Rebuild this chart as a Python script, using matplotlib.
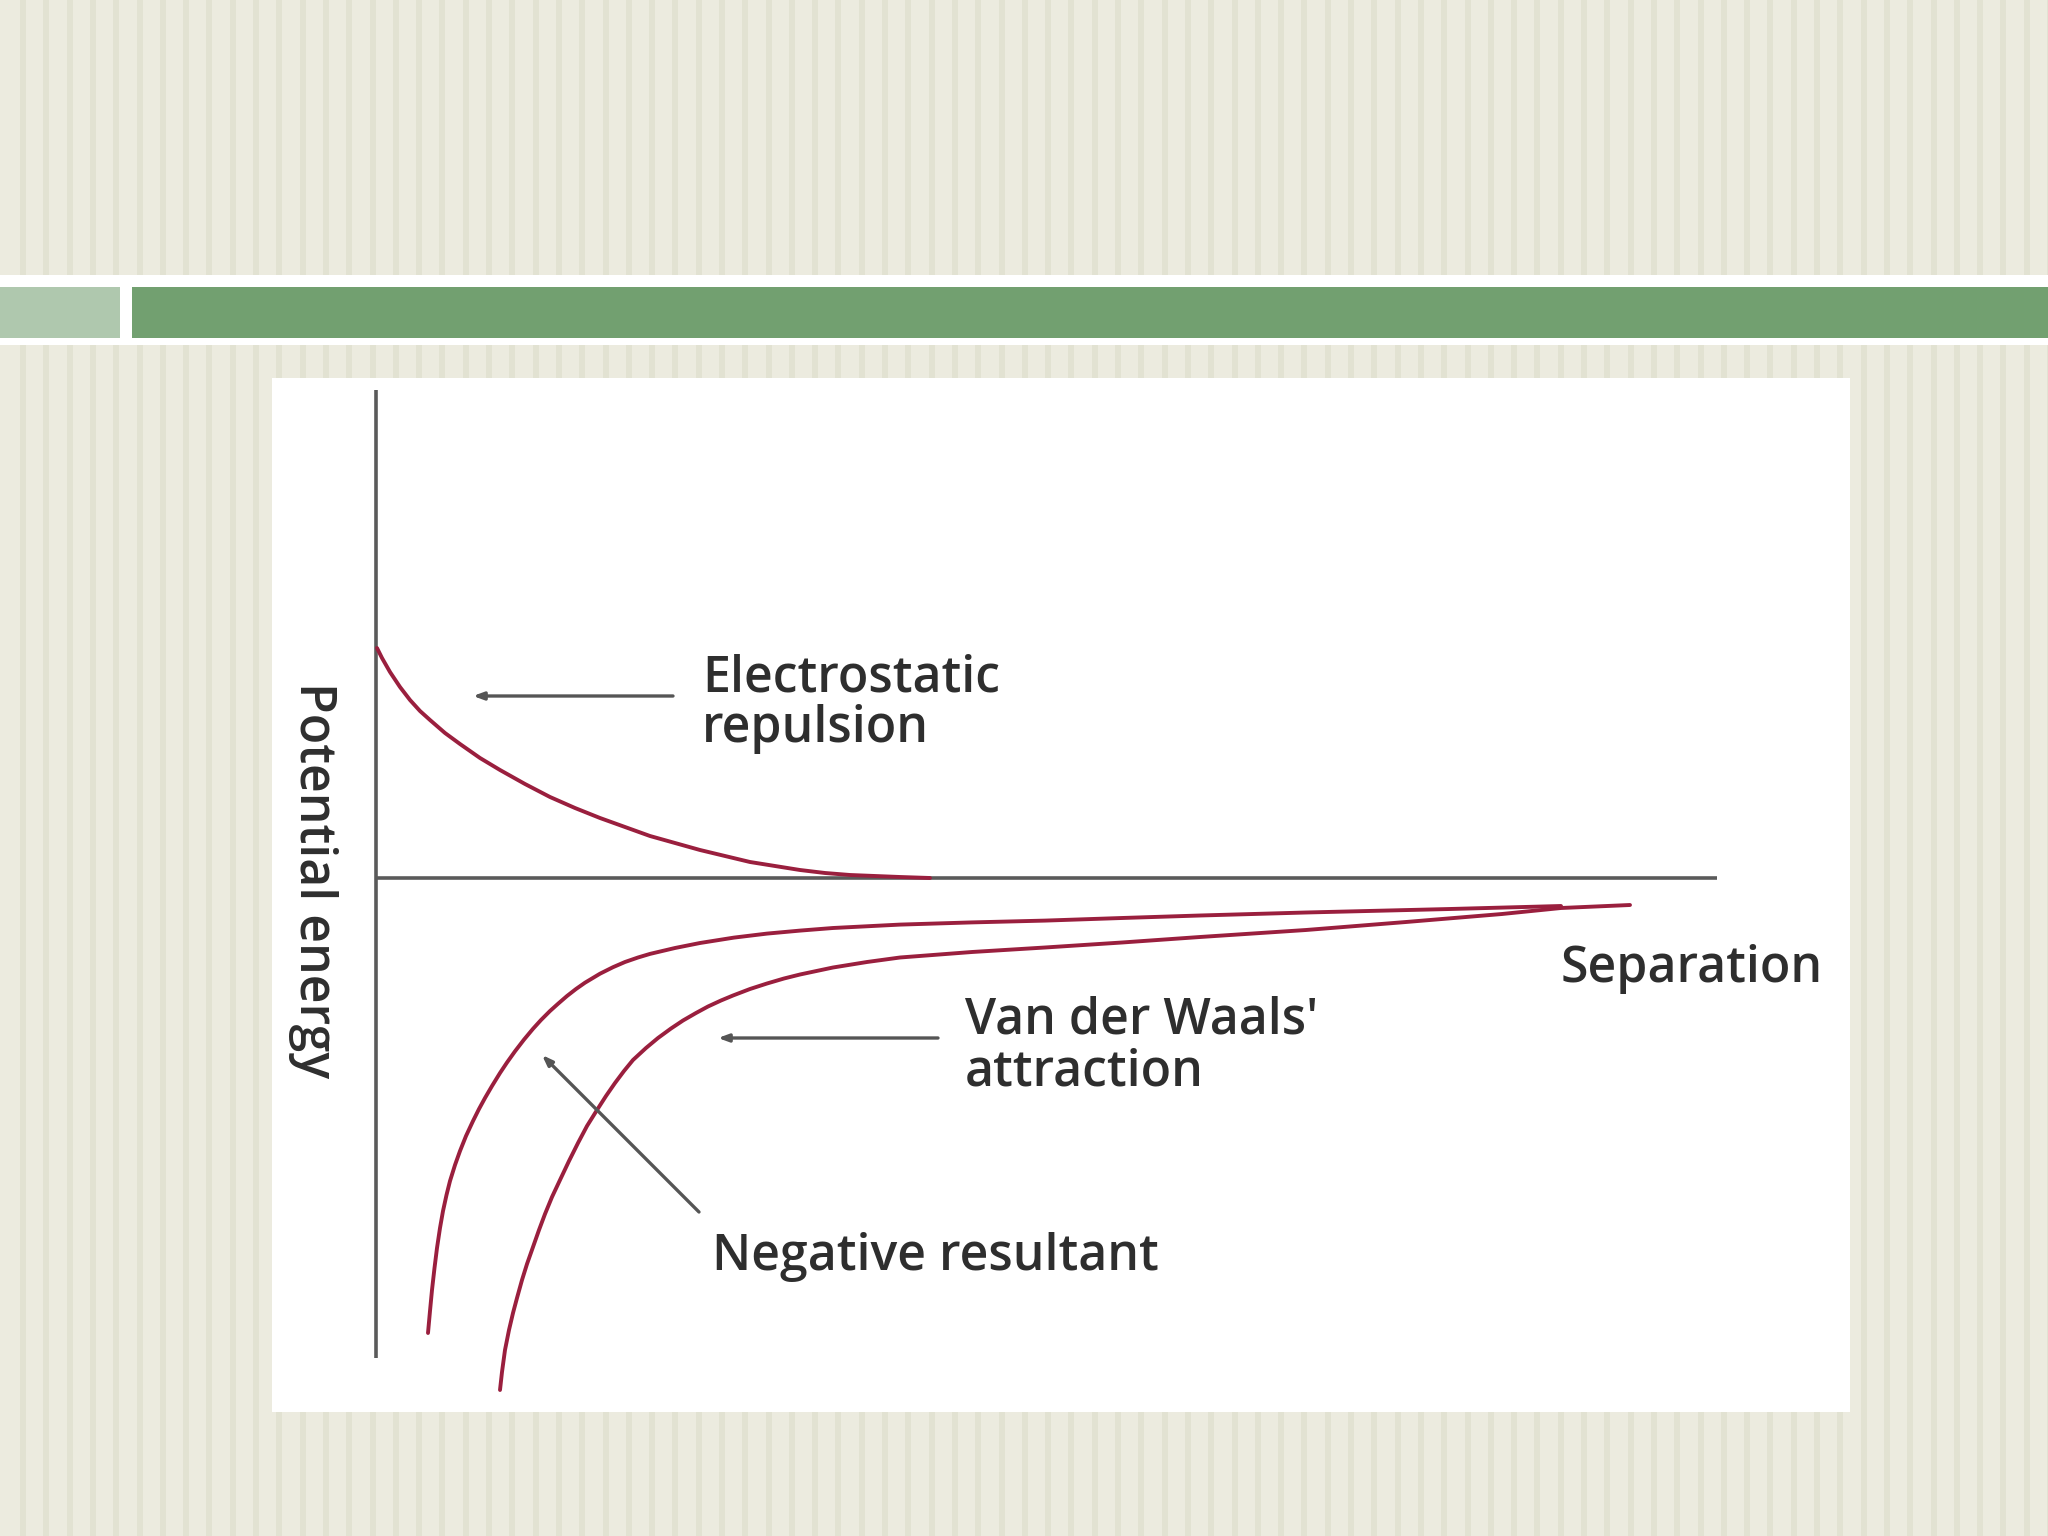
"""
Slide: potential energy vs separation (DLVO sketch) on a striped slide background.
"""
import matplotlib
matplotlib.use("Agg")
import matplotlib.pyplot as plt
from matplotlib.patches import Rectangle

plt.rcParams["font.family"] = ["Open Sans", "DejaVu Sans"]

# --- data (separation units, energy units; origin at axis crossing) ---
rep_x = [0.01, 0.06, 0.14, 0.24, 0.34, 0.44, 0.54, 0.69, 0.84, 1.04, 1.24,
         1.49, 1.74, 1.99, 2.24, 2.49, 2.74, 2.99, 3.24, 3.49, 3.74, 3.99,
         4.24, 4.49, 4.74, 5.24, 5.54]
rep_y = [2.30, 2.20, 2.06, 1.91, 1.78, 1.67, 1.58, 1.45, 1.34, 1.20, 1.08,
         0.94, 0.81, 0.70, 0.60, 0.51, 0.42, 0.35, 0.28, 0.22, 0.16, 0.12,
         0.08, 0.05, 0.03, 0.01, 0.0]

# negative resultant (upper, left curve)
res_x = [0.52, 0.54, 0.56, 0.585, 0.61, 0.64, 0.67, 0.705, 0.74, 0.79, 0.84,
         0.90, 0.97, 1.03, 1.09, 1.16, 1.24, 1.31, 1.39, 1.48, 1.57, 1.65,
         1.74, 1.82, 1.91, 2.00, 2.09, 2.24, 2.37, 2.49, 2.62, 2.74, 2.99,
         3.24, 3.58, 3.91, 4.24, 4.57, 5.24, 5.96, 6.69, 7.46, 8.24, 9.30,
         10.74, 11.85]
res_y = [-4.55, -4.33, -4.12, -3.90, -3.70, -3.50, -3.33, -3.17, -3.03,
         -2.87, -2.73, -2.58, -2.43, -2.31, -2.20, -2.08, -1.95, -1.845,
         -1.733, -1.616, -1.508, -1.42, -1.33, -1.258, -1.18, -1.11, -1.047,
         -0.957, -0.892, -0.84, -0.795, -0.759, -0.70, -0.65, -0.596,
         -0.556, -0.526, -0.50, -0.466, -0.444, -0.426, -0.40, -0.375,
         -0.345, -0.31, -0.28]

# Van der Waals' attraction (lower, right curve)
vdw_x = [1.24, 1.26, 1.29, 1.33, 1.37, 1.41, 1.46, 1.51, 1.57, 1.63, 1.69,
         1.76, 1.84, 1.93, 2.02, 2.11, 2.21, 2.30, 2.39, 2.48, 2.57, 2.70,
         2.82, 2.95, 3.07, 3.20, 3.32, 3.45, 3.57, 3.74, 3.91, 4.08, 4.24,
         4.57, 4.91, 5.24, 5.96, 6.69, 7.46, 8.24, 9.30, 10.30, 11.26,
         11.85, 12.54]
vdw_y = [-5.12, -4.94, -4.72, -4.52, -4.35, -4.20, -4.02, -3.86, -3.69,
         -3.52, -3.36, -3.19, -3.02, -2.83, -2.65, -2.48, -2.32, -2.18,
         -2.05, -1.93, -1.82, -1.70, -1.60, -1.505, -1.425, -1.35, -1.285,
         -1.225, -1.175, -1.11, -1.055, -1.005, -0.965, -0.895, -0.84,
         -0.795, -0.74, -0.695, -0.645, -0.59, -0.52, -0.44, -0.36, -0.30,
         -0.27]

y_axis_top, y_axis_bottom = 4.88, -4.80
x_axis_end = 13.41

CURVE = "#9a1f3e"
AXIS = "#5a5a5a"
TEXT = "#2e2e2e"
FS = 36

W, H = 2048, 1536
fig = plt.figure(figsize=(W / 100, H / 100), dpi=100)

# slide background with faint vertical stripes
bg = fig.add_axes([0, 0, 1, 1])
bg.set_xlim(0, W)
bg.set_ylim(H, 0)
bg.axis("off")
bg.add_patch(Rectangle((0, 0), W, H, color="#ecebdf", zorder=0))
x = 20.0
while x < W:
    bg.add_patch(Rectangle((x, 0), 6, H, color="#e2e2d2", lw=0, zorder=1))
    x += 23.3
bg.add_patch(Rectangle((0, 275), W, 70, color="white", lw=0, zorder=2))
bg.add_patch(Rectangle((0, 287), 120, 51, color="#afc8ae", lw=0, zorder=3))
bg.add_patch(Rectangle((132, 287), W - 132, 51, color="#72a070", lw=0, zorder=3))

# chart panel
ax = fig.add_axes([272 / W, 1 - 1412 / H, 1578 / W, 1034 / H])
ax.set_facecolor("white")
ax.set_xlim(-1.04, 14.74)
ax.set_ylim(-5.34, 5.00)
for s in ax.spines.values():
    s.set_visible(False)
ax.set_xticks([])
ax.set_yticks([])

ax.plot([0, 0], [y_axis_bottom, y_axis_top], color=AXIS, lw=2.6,
        solid_capstyle="butt")
ax.plot([0, x_axis_end], [0, 0], color=AXIS, lw=2.6, solid_capstyle="butt")

line_kw = dict(color=CURVE, lw=2.8, solid_capstyle="round",
               solid_joinstyle="round")
ax.plot(rep_x, rep_y, **line_kw)
ax.plot(res_x, res_y, **line_kw)
ax.plot(vdw_x, vdw_y, **line_kw)

# pointer lines: grey shaft, dark small head
arrow = dict(arrowstyle="-|>,head_length=0.6,head_width=0.22",
             color="#555555", lw=2.4, shrinkA=0, shrinkB=0)
ax.annotate("", xy=(0.97, 1.82), xytext=(2.97, 1.82), arrowprops=arrow)
ax.annotate("", xy=(3.42, -1.60), xytext=(5.62, -1.60), arrowprops=arrow)
ax.annotate("", xy=(1.66, -1.77), xytext=(3.23, -3.34), arrowprops=arrow)

tk = dict(fontsize=FS, color=TEXT, fontweight="semibold", va="baseline",
          ha="left")
ax.text(3.26, 1.86, "Electrostatic", **tk)
ax.text(3.26, 1.36, "repulsion", **tk)
ax.text(5.89, -1.55, "Van der Waals'", **tk)
ax.text(5.89, -2.08, "attraction", **tk)
ax.text(3.36, -3.92, "Negative resultant", **tk)
ax.text(11.85, -1.04, "Separation", **tk)
ax.text(-0.63, -0.02, "Potential energy", fontsize=FS, color=TEXT,
        fontweight="semibold", rotation=-90, ha="center", va="center")

fig.savefig("out.png", dpi=100)
